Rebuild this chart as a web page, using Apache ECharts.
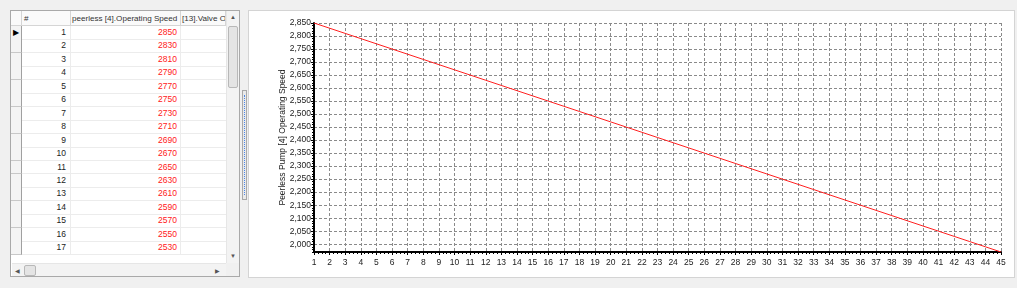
<!DOCTYPE html>
<html>
<head>
<meta charset="utf-8">
<script src="https://cdn.jsdelivr.net/npm/echarts@6/dist/echarts.min.js"></script>
<style>
  html, body { margin:0; padding:0; width:1017px; height:288px; background:#f0f0f0; overflow:hidden;
    font-family:"Liberation Sans", Arial, sans-serif; }
  #left { position:absolute; left:10px; top:10px; width:230px; height:267px; background:#fff;
    border:1px solid #a9a9a9; box-sizing:border-box; overflow:hidden; }
  .cell { position:absolute; font-size:8.5px; line-height:13px; white-space:nowrap; overflow:hidden; box-sizing:border-box; }
  .hdr { background:#fafafa; color:#333; border-right:1px solid #d5d5d5; border-bottom:1px solid #d5d5d5; font-size:8.1px; }
  .rh { background:#f4f4f4; border-right:1px solid #a0a0a0; border-bottom:1px solid #c8c8c8; }
  .num { text-align:right; padding-right:4px; color:#222; border-right:1px solid #ececec; border-bottom:1px solid #ececec; }
  .val { text-align:right; padding-right:3px; color:#ff2020; border-right:1px solid #ececec; border-bottom:1px solid #ececec; }
  .emp { border-bottom:1px solid #ececec; }
  #vscroll { position:absolute; left:215px; top:0; width:13px; height:252px; background:#f3f3f3; border-left:1px solid #e6e6e6; }
  #vthumb { position:absolute; left:1px; top:15px; width:10px; height:62px; background:#e4e4e4; border:1px solid #b8b8b8; box-sizing:border-box; border-radius:2px; }
  #hscroll { position:absolute; left:1px; top:252px; width:214px; height:13px; background:#f3f3f3; border-top:1px solid #e6e6e6; }
  #hthumb { position:absolute; left:12px; top:1px; width:12px; height:11px; background:#e4e4e4; border:1px solid #b8b8b8; box-sizing:border-box; border-radius:2px; }
  #corner { position:absolute; left:215px; top:252px; width:13px; height:13px; background:#f0f0f0; }
  .arr { position:absolute; font-size:6px; color:#555; }
  #split { position:absolute; left:242px; top:90px; width:5px; height:110px; background:#eaeaea; border:1px solid #a8a8a8; box-sizing:border-box; }
  #splitdots { position:absolute; left:1px; top:4px; width:0; height:100px; border-left:1px dotted #4a86e8; }
  #right { position:absolute; left:248px; top:10px; width:767px; height:268px; background:#fff;
    border:1px solid #d4d4d4; box-sizing:border-box; }
  #chart { position:absolute; left:0; top:0; width:765px; height:266px; }
</style>
</head>
<body>
<div id="left"></div>
<div id="split"><div id="splitdots"></div></div>
<div id="right"><div id="chart"></div></div>
<script>
// ---- data ----
const rowNumbers = [1,2,3,4,5,6,7,8,9,10,11,12,13,14,15,16,17,18,19,20,21,22,23,24,25,26,27,28,29,30,31,32,33,34,35,36,37,38,39,40,41,42,43,44,45];
const operatingSpeed = [2850,2830,2810,2790,2770,2750,2730,2710,2690,2670,2650,2630,2610,2590,2570,2550,2530,2510,2490,2470,2450,2430,2410,2390,2370,2350,2330,2310,2290,2270,2250,2230,2210,2190,2170,2150,2130,2110,2090,2070,2050,2030,2010,1990,1970];
const yTickValues = [2000,2050,2100,2150,2200,2250,2300,2350,2400,2450,2500,2550,2600,2650,2700,2750,2800,2850];
const columnHeaders = ["#", "peerless [4].Operating Speed", "[13].Valve Opening"];
const yAxisTitle = "Peerless Pump [4] Operating Speed";
const visibleRows = 17;

// ---- table (HTML) ----
const left = document.getElementById('left');
function cell(cls, x, y, w, h, text) {
  const d = document.createElement('div');
  d.className = 'cell ' + cls;
  d.style.left = x + 'px'; d.style.top = y + 'px';
  d.style.width = w + 'px'; d.style.height = h + 'px';
  d.style.lineHeight = h + 'px';
  if (text !== undefined) d.textContent = text;
  left.appendChild(d);
  return d;
}
const colX = [0, 11, 60, 170];
const colW = [11, 49, 110, 45];
const hdrH = 15, rowH = 13.45;
cell('hdr', colX[0], 0, colW[0], hdrH);
const h1 = cell('hdr', colX[1], 0, colW[1], hdrH, columnHeaders[0]); h1.style.paddingLeft = '2px';
const h2 = cell('hdr', colX[2], 0, colW[2], hdrH, columnHeaders[1]); h2.style.paddingLeft = '1px';
const h3 = cell('hdr', colX[3], 0, colW[3], hdrH, columnHeaders[2]); h3.style.paddingLeft = '1px';
for (let i = 0; i < visibleRows; i++) {
  const y = hdrH + i * rowH;
  const rh = cell('rh', colX[0], y, colW[0], rowH + 0.5);
  if (i === 0) { rh.textContent = '\u25B6'; rh.style.fontSize = '8px'; rh.style.color = '#000'; rh.style.paddingLeft = '2px'; }
  cell('num', colX[1], y, colW[1], rowH + 0.5, String(rowNumbers[i]));
  cell('val', colX[2], y, colW[2], rowH + 0.5, String(operatingSpeed[i]));
  cell('emp', colX[3], y, colW[3], rowH + 0.5, '');
}
left.insertAdjacentHTML('beforeend',
  '<div id="vscroll"><div class="arr" style="left:3px;top:3px">\u25B2</div><div id="vthumb"></div>' +
  '<div class="arr" style="left:3px;top:242px">\u25BC</div></div>' +
  '<div id="hscroll"><div class="arr" style="left:3px;top:3px">\u25C0</div><div id="hthumb"></div>' +
  '<div class="arr" style="left:203px;top:3px">\u25B6</div></div><div id="corner"></div>');

// ---- chart ----
const chart = echarts.init(document.getElementById('chart'), null, { renderer: 'canvas' });
const pts = rowNumbers.map((r, i) => [r, operatingSpeed[i]]);
const fontFam = '"Liberation Sans", Arial, sans-serif';
chart.setOption({
  animation: false,
  backgroundColor: '#ffffff',
  grid: { left: 65, right: 13, top: 12, bottom: 25, containLabel: false },
  xAxis: {
    type: 'value', min: 1, max: 45, interval: 1,
    axisLine: { show: true, onZero: false, lineStyle: { color: '#000', width: 2 } },
    axisTick: { show: true, length: 3, lineStyle: { color: '#000' } },
    minorTick: { show: true, splitNumber: 4, length: 2, lineStyle: { color: '#000' } },
    axisLabel: { fontSize: 8.5, color: '#222', fontFamily: fontFam, margin: 6 },
    splitLine: { show: true, lineStyle: { color: '#8a8a8a', type: [3, 2], width: 1 } }
  },
  yAxis: [{
    type: 'value', min: 1970, max: 2850, position: 'left',
    name: yAxisTitle, nameLocation: 'middle', nameRotate: 90, nameGap: 27, nameMoveOverlap: false,
    nameTextStyle: { fontSize: 8.5, color: '#222', fontFamily: fontFam },
    axisLine: { show: true, onZero: false, lineStyle: { color: '#000', width: 2 } },
    axisTick: { show: true, length: 3, customValues: yTickValues, lineStyle: { color: '#000' } },
    axisLabel: { fontSize: 8.5, color: '#222', fontFamily: fontFam, margin: 3, customValues: yTickValues,
      formatter: v => v.toLocaleString('en-US') },
    splitLine: { show: true, lineStyle: { color: '#8a8a8a', type: [3, 2], width: 1 } }
  }, {
    type: 'value', min: 1970, max: 2850, interval: 10, position: 'left', offset: 0,
    axisLine: { show: false },
    axisTick: { show: true, length: 2, lineStyle: { color: '#000' } },
    axisLabel: { show: false },
    splitLine: { show: false }
  }],
  series: [{
    type: 'line', data: pts, yAxisIndex: 0, showSymbol: false, symbol: 'none',
    lineStyle: { color: '#ff2020', width: 1 }
  }]
});
</script>
</body>
</html>
